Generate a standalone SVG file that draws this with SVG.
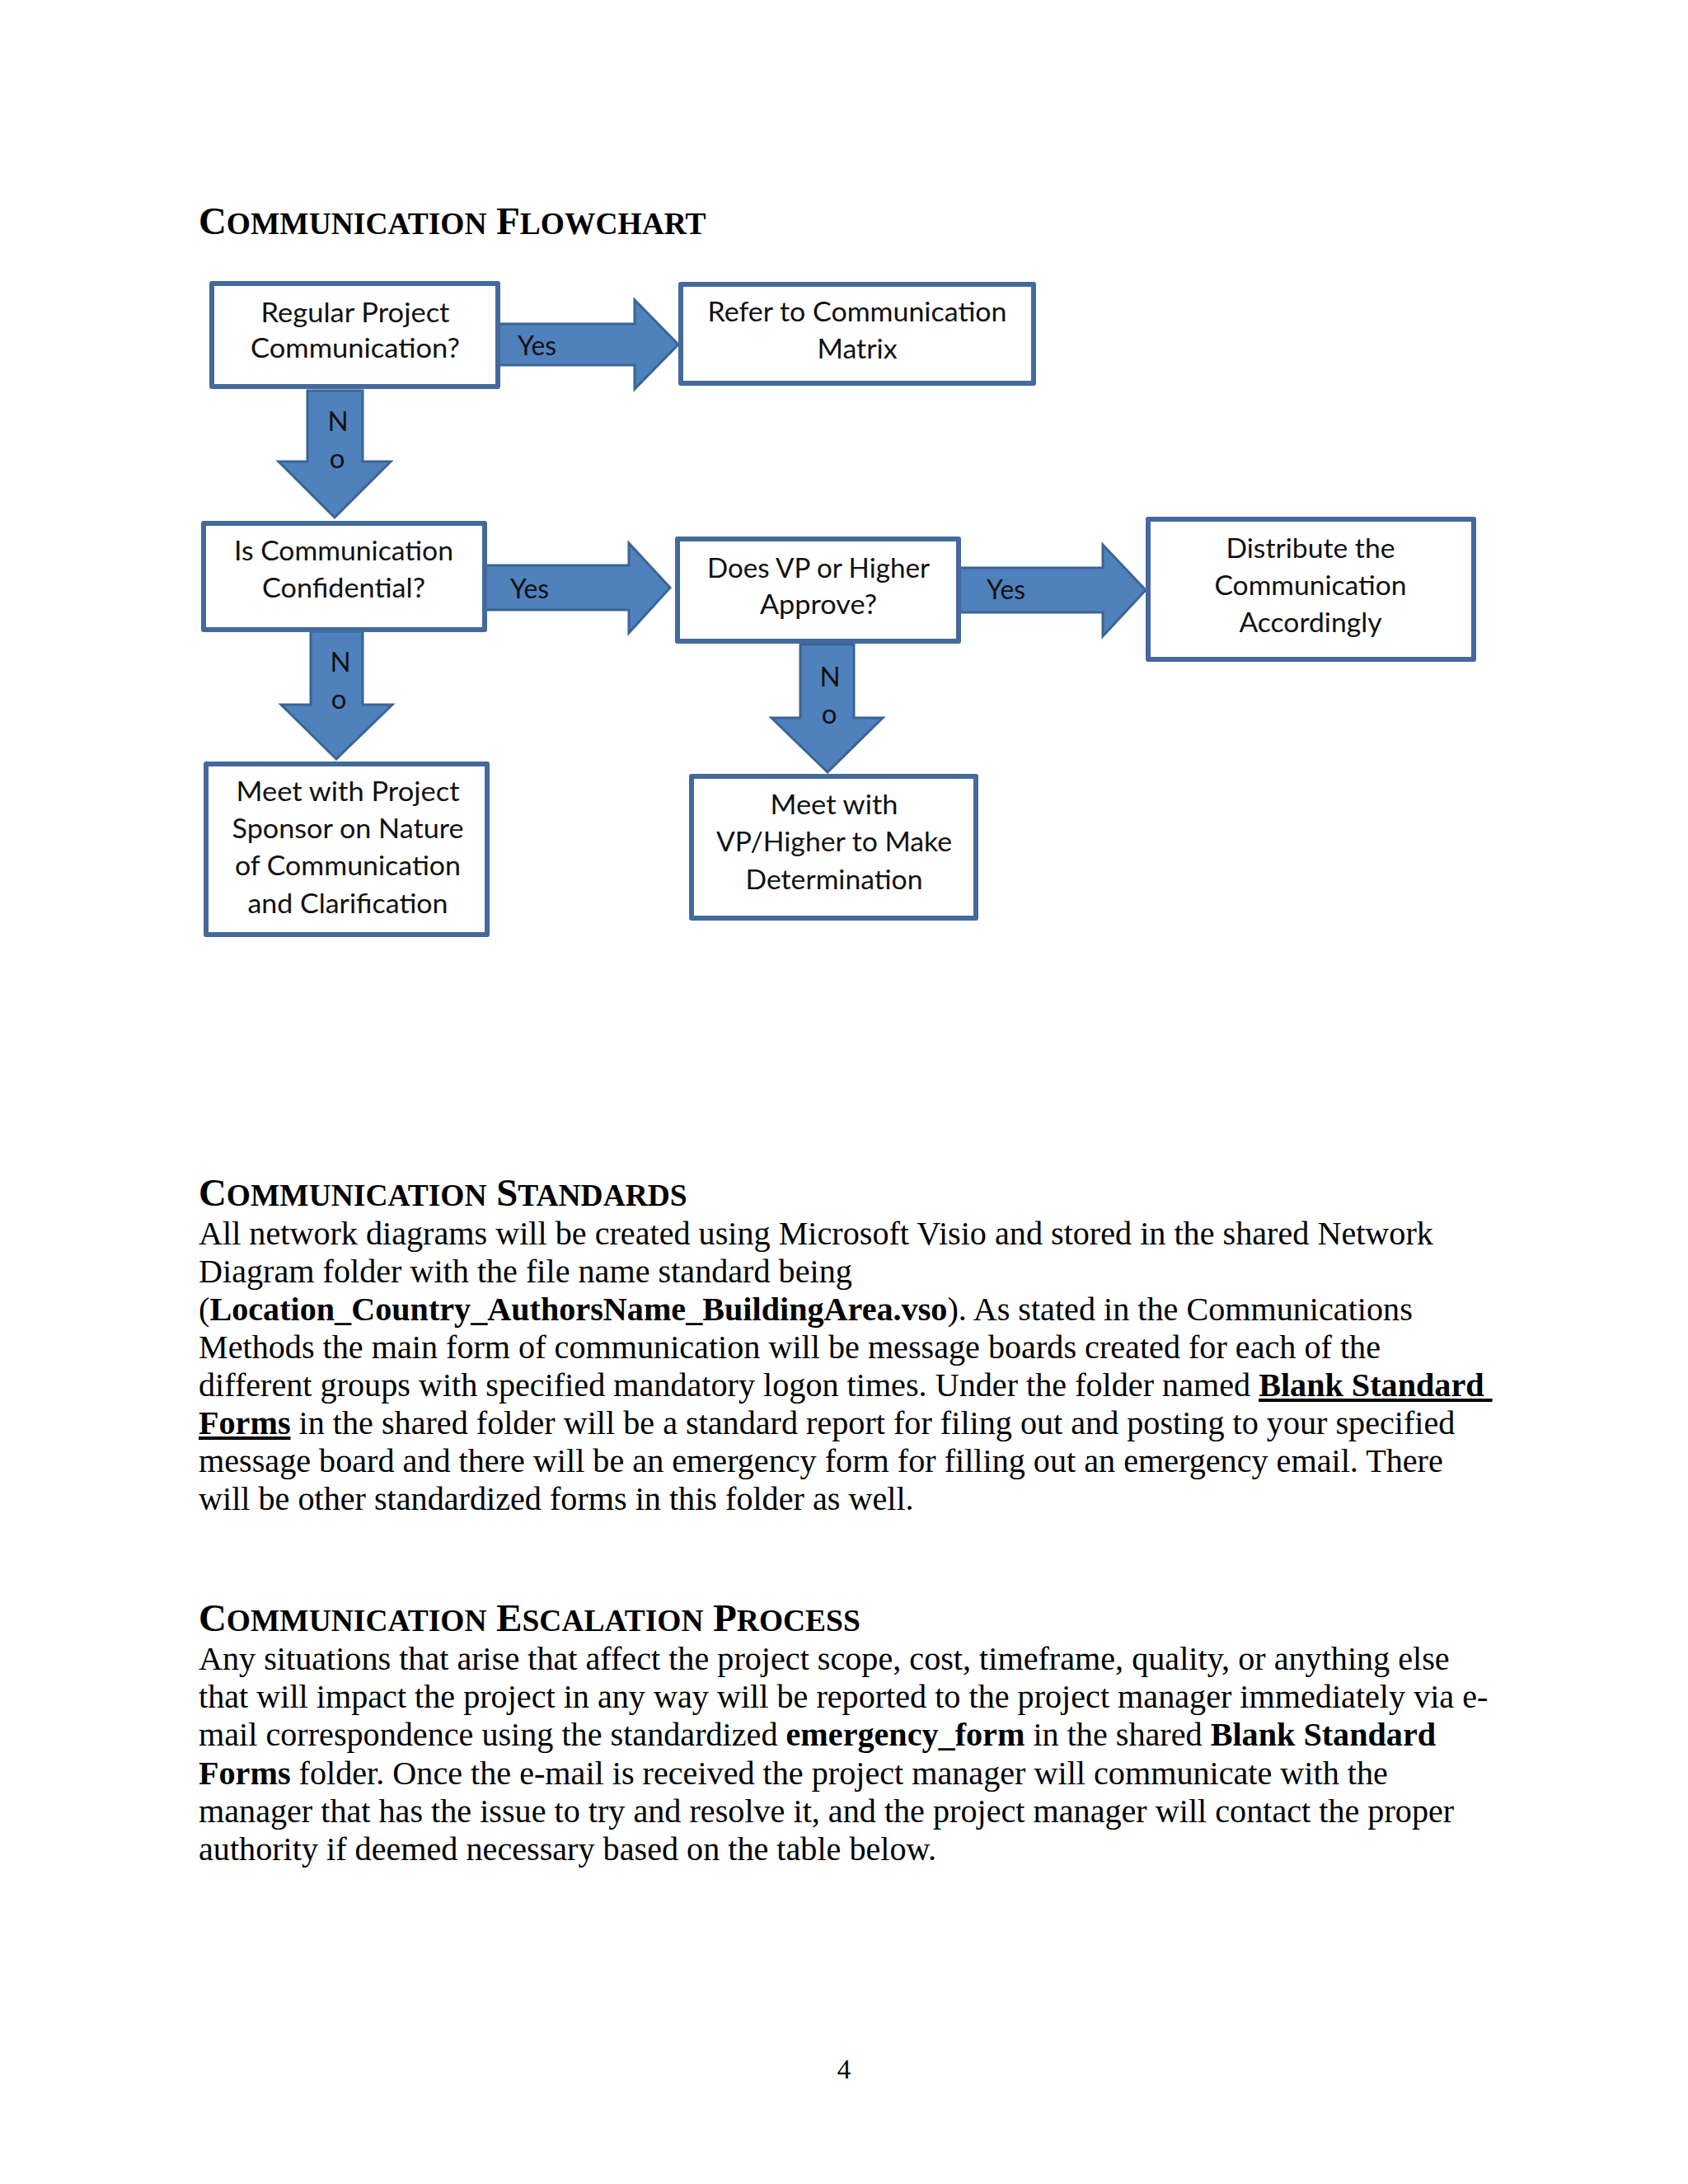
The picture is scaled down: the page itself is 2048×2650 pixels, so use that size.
<svg xmlns="http://www.w3.org/2000/svg" width="2048" height="2650" viewBox="0 0 2048 2650">
<style>
.bg{fill:#ffffff}
.box{fill:#ffffff;stroke:#44699c;stroke-width:6;stroke-linejoin:round}
.arr{fill:#4f81bd;stroke:#3b6494;stroke-width:3;stroke-linejoin:miter}
.ft{font-family:Lato,"Open Sans","Liberation Sans",sans-serif;font-size:33px;fill:#111111;text-anchor:middle}
.fl{font-family:Lato,"Open Sans","Liberation Sans",sans-serif;font-size:33px;fill:#111111}
.h{font-family:"Liberation Serif","Times New Roman",serif;font-weight:bold;font-size:46.85px;fill:#000000}
.sc{font-size:37.48px}
.p{font-family:"Liberation Serif","Times New Roman",serif;font-size:40.16px;fill:#000000}
.b{font-weight:bold}
.u{text-decoration:underline}
</style>
<rect class="bg" x="0" y="0" width="2048" height="2650"/>

<text class="h" x="241" y="284">C<tspan class="sc">OMMUNICATION</tspan> F<tspan class="sc">LOWCHART</tspan></text>

<g id="connectors">
  <polygon class="arr" points="605,393 770,393 770,364 823,418 770,472 770,443 605,443"/>
  <text class="fl" x="628" y="431" textLength="47" lengthAdjust="spacingAndGlyphs">Yes</text>
  <polygon class="arr" points="589,686 763,686 763,659 813,713 763,768 763,740 589,740"/>
  <text class="fl" x="619" y="726" textLength="47" lengthAdjust="spacingAndGlyphs">Yes</text>
  <polygon class="arr" points="1164,689 1338,689 1338,661 1390,716 1338,772 1338,743 1164,743"/>
  <text class="fl" x="1197" y="727" textLength="47" lengthAdjust="spacingAndGlyphs">Yes</text>
  <polygon class="arr" points="373,474 440,474 440,560 474,560 406,628 338,560 373,560"/>
  <text class="ft" x="410" y="523">N</text>
  <text class="ft" x="409" y="568">o</text>
  <polygon class="arr" points="377,766 440,766 440,855 476,855 408,921 341,855 377,855"/>
  <text class="ft" x="413" y="815">N</text>
  <text class="ft" x="411" y="860">o</text>
  <polygon class="arr" points="971,782 1036,782 1036,871 1071,871 1004,937 936,871 971,871"/>
  <text class="ft" x="1007" y="833">N</text>
  <text class="ft" x="1006" y="878">o</text>
</g>

<g id="node-regular">
  <rect class="box" x="257" y="344" width="347" height="125"/>
  <text class="ft" x="431" y="391" textLength="229" lengthAdjust="spacingAndGlyphs">Regular Project</text>
  <text class="ft" x="431" y="434" textLength="254" lengthAdjust="spacingAndGlyphs">Communication?</text>
</g>
<g id="node-refer">
  <rect class="box" x="826" y="345" width="428" height="120"/>
  <text class="ft" x="1040" y="390" textLength="363" lengthAdjust="spacingAndGlyphs">Refer to Communication</text>
  <text class="ft" x="1040" y="435" textLength="97" lengthAdjust="spacingAndGlyphs">Matrix</text>
</g>
<g id="node-confidential">
  <rect class="box" x="247" y="635" width="341" height="129"/>
  <text class="ft" x="417" y="680" textLength="266" lengthAdjust="spacingAndGlyphs">Is Communication</text>
  <text class="ft" x="417" y="725" textLength="198" lengthAdjust="spacingAndGlyphs">Confidential?</text>
</g>
<g id="node-vp-approve">
  <rect class="box" x="822" y="654" width="341" height="124"/>
  <text class="ft" x="993" y="701" textLength="270" lengthAdjust="spacingAndGlyphs">Does VP or Higher</text>
  <text class="ft" x="993" y="745" textLength="142" lengthAdjust="spacingAndGlyphs">Approve?</text>
</g>
<g id="node-distribute">
  <rect class="box" x="1393" y="630" width="395" height="170"/>
  <text class="ft" x="1590" y="677" textLength="205" lengthAdjust="spacingAndGlyphs">Distribute the</text>
  <text class="ft" x="1590" y="722" textLength="233" lengthAdjust="spacingAndGlyphs">Communication</text>
  <text class="ft" x="1590" y="767" textLength="173" lengthAdjust="spacingAndGlyphs">Accordingly</text>
</g>
<g id="node-sponsor">
  <rect class="box" x="250" y="927" width="341" height="207"/>
  <text class="ft" x="422" y="972" textLength="271" lengthAdjust="spacingAndGlyphs">Meet with Project</text>
  <text class="ft" x="422" y="1017" textLength="281" lengthAdjust="spacingAndGlyphs">Sponsor on Nature</text>
  <text class="ft" x="422" y="1062" textLength="274" lengthAdjust="spacingAndGlyphs">of Communication</text>
  <text class="ft" x="422" y="1108" textLength="243" lengthAdjust="spacingAndGlyphs">and Clarification</text>
</g>
<g id="node-meet-vp">
  <rect class="box" x="839" y="942" width="345" height="172"/>
  <text class="ft" x="1012" y="988" textLength="155" lengthAdjust="spacingAndGlyphs">Meet with</text>
  <text class="ft" x="1012" y="1033" textLength="286" lengthAdjust="spacingAndGlyphs">VP/Higher to Make</text>
  <text class="ft" x="1012" y="1079" textLength="215" lengthAdjust="spacingAndGlyphs">Determination</text>
</g>

<text class="h" x="241" y="1463">C<tspan class="sc">OMMUNICATION</tspan> S<tspan class="sc">TANDARDS</tspan></text>
<g id="standards-text">
  <text class="p" x="241" y="1510">All network diagrams will be created using Microsoft Visio and stored in the shared Network</text>
  <text class="p" x="241" y="1556">Diagram folder with the file name standard being</text>
  <text class="p" x="241" y="1602">(<tspan class="b">Location_Country_AuthorsName_BuildingArea.vso</tspan>). As stated in the Communications</text>
  <text class="p" x="241" y="1648">Methods the main form of communication will be message boards created for each of the</text>
  <text class="p" x="241" y="1694">different groups with specified mandatory logon times. Under the folder named <tspan class="b u">Blank Standard&#160;</tspan></text>
  <text class="p" x="241" y="1740"><tspan class="b u">Forms</tspan> in the shared folder will be a standard report for filing out and posting to your specified</text>
  <text class="p" x="241" y="1786">message board and there will be an emergency form for filling out an emergency email. There</text>
  <text class="p" x="241" y="1832">will be other standardized forms in this folder as well.</text>
</g>

<text class="h" x="241" y="1979">C<tspan class="sc">OMMUNICATION</tspan> E<tspan class="sc">SCALATION</tspan> P<tspan class="sc">ROCESS</tspan></text>
<g id="escalation-text">
  <text class="p" x="241" y="2026">Any situations that arise that affect the project scope, cost, timeframe, quality, or anything else</text>
  <text class="p" x="241" y="2072">that will impact the project in any way will be reported to the project manager immediately via e-</text>
  <text class="p" x="241" y="2118">mail correspondence using the standardized <tspan class="b">emergency_form</tspan> in the shared <tspan class="b">Blank Standard</tspan></text>
  <text class="p" x="241" y="2165"><tspan class="b">Forms</tspan> folder. Once the e-mail is received the project manager will communicate with the</text>
  <text class="p" x="241" y="2211">manager that has the issue to try and resolve it, and the project manager will contact the proper</text>
  <text class="p" x="241" y="2257">authority if deemed necessary based on the table below.</text>
</g>

<text class="p" x="1024" y="2522" style="font-size:33px;text-anchor:middle">4</text>
</svg>
